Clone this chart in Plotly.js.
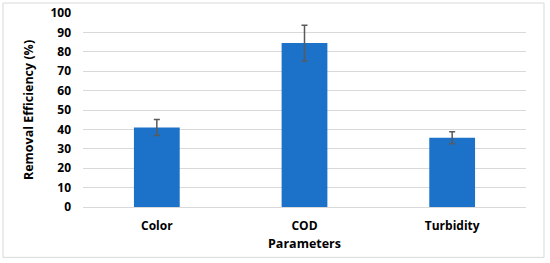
<!DOCTYPE html>
<html><head><meta charset="utf-8">
<script src="https://cdn.plot.ly/plotly-3.0.1.min.js"></script>
<style>html,body{margin:0;padding:0;background:#fff}#c{width:550px;height:263px}</style>
</head><body><div id="c"></div>
<script>
const categories = ["Color", "COD", "Turbidity"];
const removalEfficiency = [41.0, 84.5, 35.7];
const errorValues = [4.1, 9.2, 3.1];
const yTickValues = [0,10,20,30,40,50,60,70,80,90,100];

const font = {family: "Open Sans, sans-serif", color: "#000", size: 12, weight: 700};
const titleFont = {family: "Open Sans, sans-serif", size: 12.5, weight: 700, color: "#000"};

const trace = {
  type: "bar", x: categories, y: removalEfficiency,
  marker: {color: "#1b72c8", line: {width: 0}},
  error_y: {type: "data", array: errorValues, visible: true, color: "#5a5a5a", thickness: 1.5, width: 3},
  hoverinfo: "none"
};

const layout = {
  width: 550, height: 263,
  margin: {l: 83, r: 24, t: 13, b: 55.5},
  paper_bgcolor: "#fff", plot_bgcolor: "#fff",
  bargap: 0.69,
  showlegend: false,
  font: font,
  xaxis: {
    type: "category", showgrid: false, zeroline: false, showline: false,
    ticks: "", tickfont: font, ticklabelstandoff: 10,
    title: {text: "Parameters", font: titleFont, standoff: 6}
  },
  yaxis: {
    range: [0, 100], tickvals: yTickValues, ticktext: yTickValues.map(String),
    showgrid: true, gridcolor: "#d9d9d9", gridwidth: 1,
    zeroline: true, zerolinecolor: "#d9d9d9", zerolinewidth: 1,
    showline: false, ticks: "", tickfont: font, ticklabelstandoff: 11,
    title: {text: "Removal Efficiency (%)", font: titleFont, standoff: 14}
  },
  shapes: [{
    type: "rect", xref: "paper", yref: "paper",
    x0: -0.1806, x1: 1.0406, y0: -0.2596, y1: 1.0514,
    line: {color: "#d9d9d9", width: 1}, fillcolor: "rgba(0,0,0,0)", layer: "below"
  }]
};

Plotly.newPlot("c", [trace], layout, {staticPlot: true, displayModeBar: false});
</script>
</body></html>
